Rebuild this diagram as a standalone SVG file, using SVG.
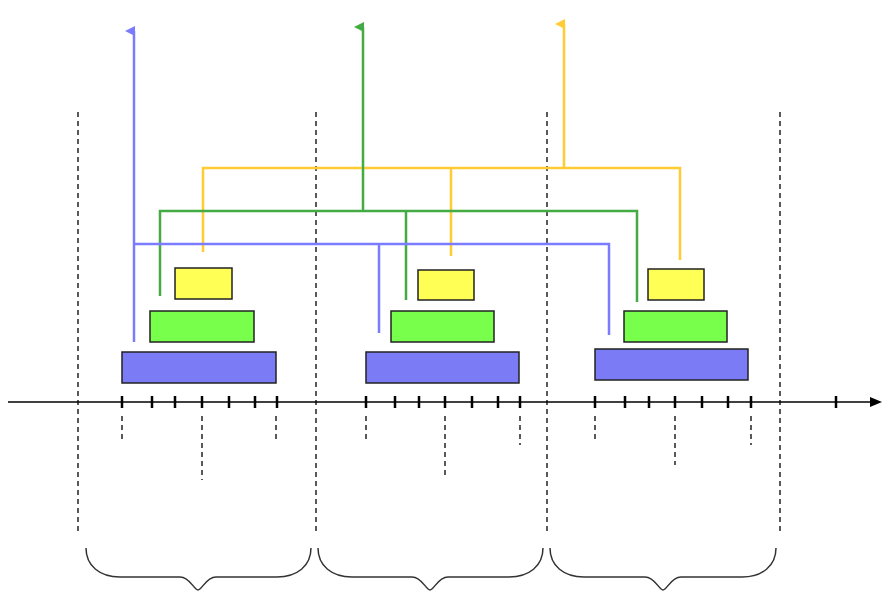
<svg xmlns="http://www.w3.org/2000/svg" width="886" height="603" viewBox="0 0 886 603">
<style>
.d{stroke:#000;stroke-width:1.3;stroke-dasharray:5,4;fill:none}
.t{stroke:#000;stroke-width:2.5}
.r{stroke:#222;stroke-width:1.5}
.b{stroke:#7b7bff;stroke-width:2.5;fill:none}
.g{stroke:#44aa44;stroke-width:2.5;fill:none}
.y{stroke:#ffcc33;stroke-width:2.5;fill:none}
.br{stroke:#333;stroke-width:1.5;fill:none}
</style>
<defs>
<marker id="ab" markerWidth="10" markerHeight="10" refX="5" refY="9" orient="auto" markerUnits="userSpaceOnUse" viewBox="0 0 10 10"><path d="M0,10L5,0L10,10z" fill="#7b7bff"/></marker>
<marker id="ag" markerWidth="10" markerHeight="10" refX="5" refY="9" orient="auto" markerUnits="userSpaceOnUse" viewBox="0 0 10 10"><path d="M0,10L5,0L10,10z" fill="#44aa44"/></marker>
<marker id="ay" markerWidth="10" markerHeight="10" refX="5" refY="9" orient="auto" markerUnits="userSpaceOnUse" viewBox="0 0 10 10"><path d="M0,10L5,0L10,10z" fill="#ffcc33"/></marker>
</defs>
<g id="separators">
<path class="d" d="M78,112V535M316,112V535M547,112V535M780,112V535"/>
</g>
<g id="axis">
<path d="M8,402H872" stroke="#000" stroke-width="1.3"/>
<path d="M870,397L882,402L870,407z" fill="#000"/>
<path class="t" d="M122,396V408M152,396V408M175,396V408M202,396V408M229,396V408M255,396V408M277,396V408M366,396V408M395,396V408M419,396V408M445,396V408M472,396V408M498,396V408M520,396V408M595,396V408M625,396V408M649,396V408M675,396V408M702,396V408M728,396V408M751,396V408M836,396V408"/>
<path class="d" d="M122,416V442M202,416V480M276,416V440M366,416V442M445,416V477M520,416V445M595,416V442M675,416V465M751,416V445"/>
</g>
<g id="tower1">
<rect class="r" x="122" y="352" width="154" height="31" fill="#7b7bf5"/>
<rect class="r" x="150" y="311" width="104" height="31" fill="#77ff4c"/>
<rect class="r" x="175" y="268" width="57" height="31" fill="#ffff55"/>
</g>
<g id="tower2">
<rect class="r" x="366" y="352" width="153" height="31" fill="#7b7bf5"/>
<rect class="r" x="391" y="311" width="103" height="31" fill="#77ff4c"/>
<rect class="r" x="418" y="270" width="56" height="30" fill="#ffff55"/>
</g>
<g id="tower3">
<rect class="r" x="595" y="349" width="153" height="31" fill="#7b7bf5"/>
<rect class="r" x="624" y="311" width="103" height="31" fill="#77ff4c"/>
<rect class="r" x="648" y="269" width="56" height="31" fill="#ffff55"/>
</g>
<g id="connectors">
<path class="y" d="M203,252V168H680V260M451,168V256M564,168V24" marker-end="url(#ay)"/>
<path class="g" d="M160,296V211H637V302M406,211V300M363,211V27" marker-end="url(#ag)"/>
<path class="b" d="M134,342V244H609V335M379,244V333M134,244V31" marker-end="url(#ab)"/>
</g>
<g id="braces">
<path class="br" d="M86,548C86,566 100,577 120,577H180C190,577 194,590 198,590C202,590 206,577 216,577H277C297,577 311,566 311,548"/>
<path class="br" d="M318,548C318,566 332,577 352,577H412C422,577 426,590 430,590C434,590 438,577 448,577H509C529,577 543,566 543,548"/>
<path class="br" d="M550,548C550,566 564,577 584,577H645C655,577 659,590 663,590C667,590 671,577 681,577H742C762,577 776,566 776,548"/>
</g>
</svg>
